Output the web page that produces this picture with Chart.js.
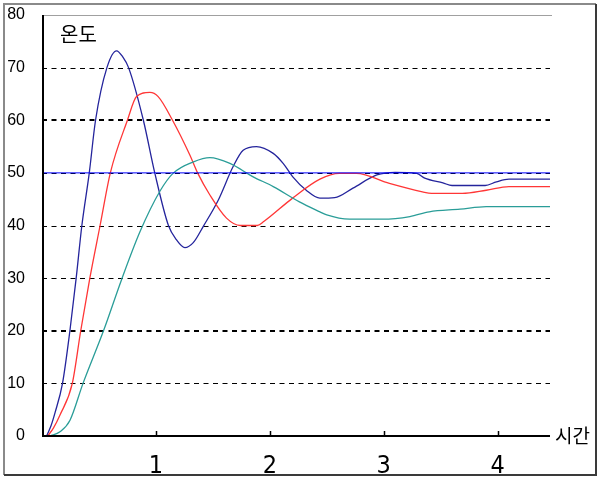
<!DOCTYPE html>
<html>
<head>
<meta charset="utf-8">
<script src="https://cdn.jsdelivr.net/npm/chart.js@4.4.1/dist/chart.umd.min.js"></script>
<style>
  html, body { margin: 0; padding: 0; background: #ffffff; overflow: hidden; }
  #wrap { position: relative; width: 601px; height: 481px; }
</style>
</head>
<body>
<div id="wrap"><canvas id="c"></canvas></div>
<script>
// ---- data ----
const yAxisTitle = '온도';
const xAxisTitle = '시간';
const xTickValues = [1, 2, 3, 4];
const xTickLabels = ['1', '2', '3', '4'];
const yTickValues = [0, 10, 20, 30, 40, 50, 60, 70, 80];
const xMin = 0, xMax = 4.46;
const yMin = 0, yMax = 80;
const setpointValue = 50;

const blueT = [0.04, 0.08, 0.114, 0.18, 0.245, 0.30, 0.35, 0.415, 0.47, 0.57, 0.655, 0.71, 0.76, 0.89, 0.99, 1.11, 1.18, 1.254, 1.33, 1.415, 1.547, 1.678, 1.766, 1.883, 2.03, 2.117, 2.2, 2.32, 2.44, 2.57, 2.73, 2.94, 3.1, 3.29, 3.36, 3.52, 3.6, 3.89, 3.99, 4.1, 4.46];
const blueV = [0, 2, 4.4, 10, 20, 30, 40, 50, 60, 70, 73.2, 72, 70, 60, 50, 40, 37.3, 35.8, 36.8, 39.8, 44.8, 51.2, 54.3, 55, 53.7, 51.8, 49.3, 46.7, 45.2, 45.3, 47.1, 49.6, 50.1, 49.9, 49.0, 48.1, 47.6, 47.6, 48.3, 48.8, 48.8];

const redT = [0.05, 0.1, 0.158, 0.266, 0.34, 0.42, 0.51, 0.60, 0.75, 0.83, 0.947, 1.02, 1.146, 1.30, 1.366, 1.474, 1.62, 1.74, 1.89, 1.95, 2.2, 2.44, 2.61, 2.76, 3.05, 3.34, 3.42, 3.69, 3.9, 4.1, 4.46];
const redV = [0, 1.5, 4, 10, 20, 30, 40, 50, 60, 64.5, 65.3, 64.5, 60, 53.3, 50, 45.8, 41.4, 40, 40, 40.8, 45.2, 48.8, 49.9, 49.9, 48, 46.4, 46.1, 46.1, 46.7, 47.4, 47.4];

const tealT = [0.07, 0.158, 0.246, 0.36, 0.54, 0.70, 0.86, 1.035, 1.15, 1.33, 1.474, 1.65, 1.85, 2.03, 2.26, 2.44, 2.5, 2.7, 2.99, 3.23, 3.40, 3.67, 3.90, 4.46];
const tealV = [0, 0.8, 3, 10, 20, 29.8, 38.8, 46.5, 49.9, 52.1, 52.9, 51.8, 49.3, 47.4, 44.5, 42.6, 42, 41.2, 41.2, 41.7, 42.6, 43.1, 43.6, 43.6];

const toPoints = (ts, vs) => ts.map((t, i) => ({ x: t, y: vs[i] }));

const decor = {
  id: 'decor',
  beforeDatasetsDraw(chart) {
    const { ctx, chartArea: a, scales: { x, y } } = chart;
    ctx.save();
    yTickValues.forEach(v => {
      if (v === 0) return;
      const py = Math.round(y.getPixelForValue(v));
      ctx.beginPath();
      if (v === 80) {
        ctx.setLineDash([]);
        ctx.strokeStyle = '#a0a0a0';
        ctx.lineWidth = 1;
        ctx.moveTo(a.left, py + 0.5); ctx.lineTo(a.right + 2, py + 0.5);
      } else if (v === 20 || v === 60) {
        ctx.setLineDash([5, 4.5]);
        ctx.strokeStyle = '#000000';
        ctx.lineWidth = 2;
        ctx.moveTo(a.left, py); ctx.lineTo(a.right, py);
      } else {
        ctx.setLineDash([5, 4.5]);
        ctx.strokeStyle = '#000000';
        ctx.lineWidth = 1;
        ctx.moveTo(a.left, py + 0.5); ctx.lineTo(a.right, py + 0.5);
      }
      ctx.stroke();
    });
    ctx.restore();
  },
  afterDatasetsDraw(chart) {
    const { ctx, chartArea: a, scales: { x, y } } = chart;
    ctx.save();
    ctx.setLineDash([]);
    ctx.strokeStyle = '#000000';
    ctx.lineWidth = 2;
    ctx.beginPath();
    ctx.moveTo(a.left + 1, y.getPixelForValue(yMax));
    ctx.lineTo(a.left + 1, y.getPixelForValue(yMin) + 1);
    ctx.stroke();
    ctx.beginPath();
    const py0 = y.getPixelForValue(yMin);
    ctx.moveTo(a.left, py0);
    ctx.lineTo(a.right, py0);
    ctx.stroke();
    ctx.lineWidth = 1.5;
    xTickValues.forEach(v => {
      const px = Math.round(x.getPixelForValue(v)) + 0.5;
      ctx.beginPath();
      ctx.moveTo(px, py0);
      ctx.lineTo(px, py0 - 5);
      ctx.stroke();
    });
    ctx.fillStyle = '#000000';
    ctx.textBaseline = 'middle';
    ctx.textAlign = 'left';
    ctx.font = '20px "Noto Sans CJK KR"';
    ctx.fillText(yAxisTitle, 60, 34);
    ctx.font = '19px "Noto Sans CJK KR"';
    ctx.fillText(xAxisTitle, 555, py0);
    ctx.lineWidth = 2;
    ctx.strokeStyle = '#8a8a8a';
    ctx.beginPath();
    ctx.moveTo(4, 475); ctx.lineTo(4, 4); ctx.lineTo(596, 4);
    ctx.stroke();
    ctx.strokeStyle = '#3a3a3a';
    ctx.beginPath();
    ctx.moveTo(596, 4); ctx.lineTo(596, 475); ctx.lineTo(4, 475);
    ctx.stroke();
    ctx.restore();
  }
};

new Chart(document.getElementById('c'), {
  type: 'line',
  data: {
    datasets: [
      { label: 'setpoint', data: [{ x: xMin, y: setpointValue }, { x: xMax, y: setpointValue }], borderColor: '#0000ff', borderWidth: 1, pointRadius: 0, tension: 0 },
      { label: 'teal', data: toPoints(tealT, tealV), borderColor: '#2a9d98', borderWidth: 1.3, pointRadius: 0, cubicInterpolationMode: 'monotone' },
      { label: 'red', data: toPoints(redT, redV), borderColor: '#ff3636', borderWidth: 1.3, pointRadius: 0, cubicInterpolationMode: 'monotone' },
      { label: 'blue', data: toPoints(blueT, blueV), borderColor: '#24249c', borderWidth: 1.3, pointRadius: 0, cubicInterpolationMode: 'monotone' }
    ]
  },
  options: {
    responsive: true,
    maintainAspectRatio: false,
    animation: false,
    events: [],
    layout: { padding: { left: 0, top: 15, right: 51, bottom: 0 } },
    plugins: { legend: { display: false }, tooltip: { enabled: false }, title: { display: false } },
    scales: {
      x: {
        type: 'linear',
        min: xMin, max: xMax,
        grid: { display: false, drawTicks: false },
        border: { display: false },
        afterBuildTicks: s => { s.ticks = xTickValues.map(v => ({ value: v })); },
        afterFit: s => { s.height = 45; s.paddingLeft = 0; s.paddingRight = 0; },
        ticks: {
          autoSkip: false,
          maxRotation: 0,
          padding: 15,
          color: '#000000',
          font: { family: '"Liberation Sans Narrow", "DejaVu Sans Condensed", sans-serif', size: 25 },
          callback: (v) => { const i = xTickValues.indexOf(v); return i >= 0 ? xTickLabels[i] : ''; }
        }
      },
      y: {
        type: 'linear',
        min: yMin, max: yMax,
        grid: { display: false, drawTicks: false },
        border: { display: false },
        afterBuildTicks: s => { s.ticks = yTickValues.map(v => ({ value: v })); },
        afterFit: s => { s.width = 42; s.paddingTop = 0; s.paddingBottom = 0; },
        ticks: {
          padding: 17,
          color: '#000000',
          font: { family: '"Liberation Sans", Arial, sans-serif', size: 16 }
        }
      }
    }
  },
  plugins: [decor]
});
</script>
</body>
</html>
